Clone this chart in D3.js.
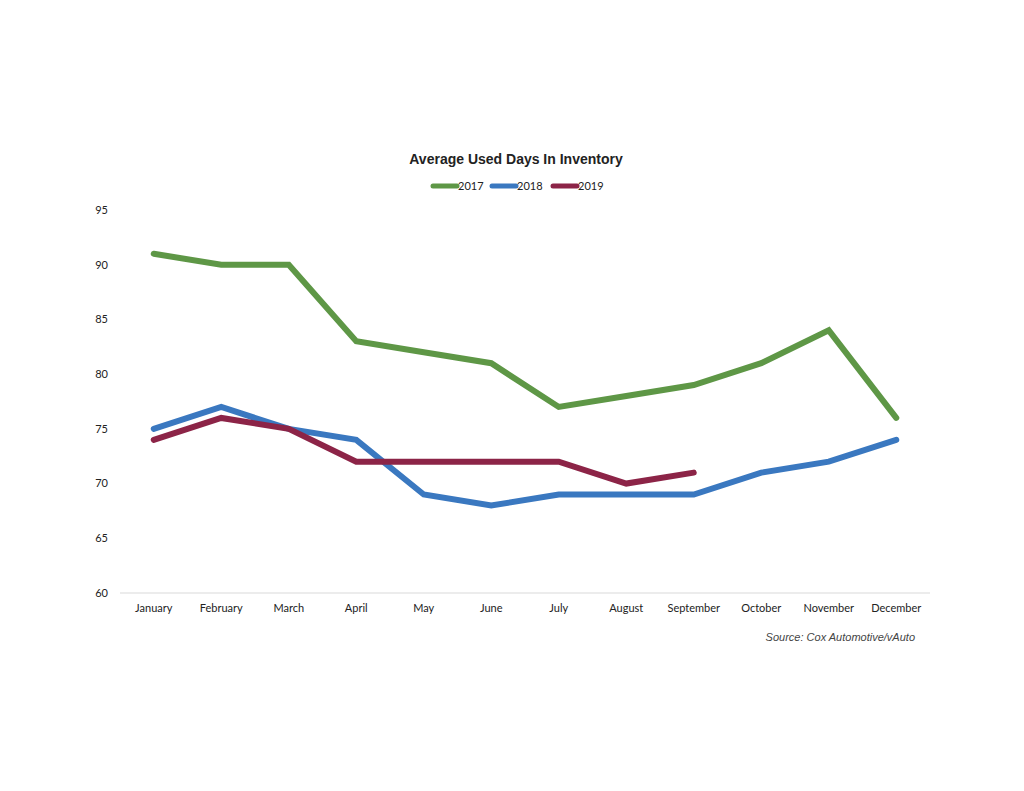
<!DOCTYPE html>
<html>
<head>
<meta charset="utf-8">
<script src="https://cdn.jsdelivr.net/npm/d3@7"></script>
<style>
  body { margin: 0; background: #fff; }
  svg text { fill: #222; }
</style>
</head>
<body>
<div id="chart"></div>
<script>
var months = ["January","February","March","April","May","June","July","August","September","October","November","December"];
var years = ["2017","2018","2019"];
var values2017 = [91,90,90,83,82,81,77,78,79,81,84,76];
var values2018 = [75,77,75,74,69,68,69,69,69,71,72,74];
var values2019 = [74,76,75,72,72,72,72,70,71];
var yTicks = [60,65,70,75,80,85,90,95];
var colors = ["#5e9746","#3a78c0","#8c2447"];

var W = 1024, H = 791;
var margin = {top: 210, right: 94, bottom: 198, left: 120},
    width = W - margin.left - margin.right,
    height = H - margin.top - margin.bottom;

var svg = d3.select("#chart").append("svg")
    .attr("width", W)
    .attr("height", H);

var g = svg.append("g")
    .attr("transform", "translate(" + margin.left + "," + margin.top + ")");

var x = d3.scaleBand().domain(months).range([0, width]);
var y = d3.scaleLinear().domain([60, 95]).range([height, 0]);

// title
svg.append("text")
    .attr("x", 516).attr("y", 164)
    .attr("text-anchor", "middle")
    .style("font-family", "Liberation Sans, Arial, sans-serif")
    .style("font-weight", "bold")
    .style("font-size", "14px")
    .text("Average Used Days In Inventory");

// legend
var legend = svg.append("g").attr("transform", "translate(433,186)");
var lx = [0, 59, 120];
years.forEach(function(yr, i) {
    var lg = legend.append("g").attr("transform", "translate(" + lx[i] + ",0)");
    lg.append("line")
        .attr("x1", 0).attr("x2", 24)
        .attr("stroke", colors[i])
        .attr("stroke-width", 5)
        .attr("stroke-linecap", "round");
    lg.append("text")
        .attr("x", 25).attr("y", 4)
        .style("font-family", "Lato, sans-serif")
        .style("font-size", "11px")
        .text(yr);
});

// y axis labels
g.selectAll(".ytick")
    .data(yTicks).enter().append("text")
    .attr("x", -12)
    .attr("y", function(d) { return y(d); })
    .attr("dy", "0.35em")
    .attr("text-anchor", "end")
    .style("font-family", "Lato, sans-serif")
    .style("font-size", "11px")
    .text(function(d) { return d; });

// x axis baseline
g.append("line")
    .attr("x1", 0).attr("x2", width)
    .attr("y1", height).attr("y2", height)
    .attr("stroke", "#d9d9d9")
    .attr("stroke-width", 1);

g.selectAll(".xtick")
    .data(months).enter().append("text")
    .attr("x", function(d) { return x(d) + x.bandwidth() / 2; })
    .attr("y", height + 19)
    .attr("text-anchor", "middle")
    .style("font-family", "Lato, sans-serif")
    .style("font-size", "11px")
    .text(function(d) { return d; });

var line = d3.line()
    .x(function(d, i) { return x(months[i]) + x.bandwidth() / 2; })
    .y(function(d) { return y(d); });

[values2017, values2018, values2019].forEach(function(vals, i) {
    g.append("path")
        .datum(vals)
        .attr("fill", "none")
        .attr("stroke", colors[i])
        .attr("stroke-width", 6)
        .attr("stroke-linecap", "round")
        .attr("stroke-linejoin", "miter")
        .attr("d", line);
});

svg.append("text")
    .attr("x", 915).attr("y", 641)
    .attr("text-anchor", "end")
    .style("font-family", "Liberation Sans, Arial, sans-serif")
    .style("font-style", "italic")
    .style("font-size", "11px")
    .style("fill", "#444")
    .text("Source: Cox Automotive/vAuto");
</script>
</body>
</html>
